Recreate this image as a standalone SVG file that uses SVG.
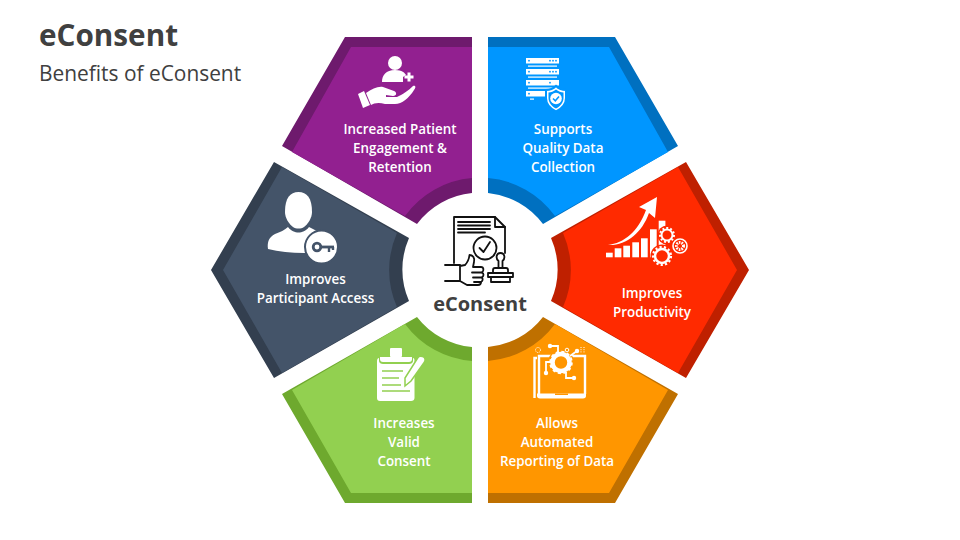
<svg xmlns="http://www.w3.org/2000/svg" width="960" height="540" viewBox="0 0 960 540">
<style>
text{font-family:"Open Sans","Liberation Sans",sans-serif}
.t{font-size:13.4px;font-weight:600;fill:#fff;text-anchor:middle}
.w{fill:#fff}
.ic{fill:none;stroke:#111;stroke-width:1.800;stroke-linejoin:round;stroke-linecap:round}
</style>
<rect width="960" height="540" fill="#fff"/>
<text id="title" x="39" y="46" font-size="29.700" font-weight="700" fill="#404040">eConsent</text>
<text id="subtitle" x="39" y="81" font-size="20.900" fill="#404040">Benefits of eConsent</text>

<g id="connectors"/>

<g id="node-patient">
<path fill="#6E1A6D" d="M472 37H345L282 146L417 224A78 78 0 0 1 472 193Z"/>
<path fill="#922090" d="M472 47H351L292 152L405 216A92 92 0 0 1 472 178Z"/>
<circle class="w" cx="395" cy="63" r="7"/>
<path class="w" d="M382 82C382 75 386 70 395 70C402 70 405 73 406 75L403 77V82Z"/>
<path class="w" d="M407.500 72.500h3v3h3v3h-3v3h-3v-3h-3v-3h3z"/>
<path class="w" d="M366 93C372 89 378 86 383 87L394 91C397 92 397 96 393 96L386 95V97H397C402 95 409 90 413 86C416 85 416 88 414 90C409 98 402 104 395 104L385 104C379 102 374 103 371 105Z"/>
<path class="w" d="M358 94L364 91L370 105L363 108Z"/>
<text class="t"><tspan x="400" y="133.500">Increased Patient</tspan><tspan x="400" y="152.500">Engagement &amp;</tspan><tspan x="400" y="171.500">Retention</tspan></text>
</g>

<g id="node-quality">
<path fill="#0070C0" d="M488 37H615L678 146L543 224A78 78 0 0 0 488 193Z"/>
<path fill="#0096FF" d="M488 47H609L668 152L555 216A92 92 0 0 0 488 178Z"/>
<g class="w">
<rect x="526" y="58" width="33" height="5.500"/><rect x="528" y="65.500" width="29" height="1.200"/>
<rect x="526" y="69" width="33" height="5.500"/><rect x="528" y="76.500" width="29" height="1.200"/>
<rect x="526" y="80" width="33" height="5.500"/><rect x="528" y="87.500" width="29" height="1.200"/>
<rect x="526" y="91" width="23" height="5.500"/><rect x="530" y="98.500" width="4" height="1.200"/>
</g>
<g fill="#0096FF"><circle cx="529" cy="60.700" r=".9"/><circle cx="550" cy="60.700" r=".9"/><circle cx="553" cy="60.700" r=".9"/><circle cx="556" cy="60.700" r=".9"/><circle cx="529" cy="71.700" r=".9"/><circle cx="550" cy="71.700" r=".9"/><circle cx="553" cy="71.700" r=".9"/><circle cx="556" cy="71.700" r=".9"/><circle cx="529" cy="82.700" r=".9"/><circle cx="550" cy="82.700" r=".9"/><circle cx="529" cy="93.700" r=".9"/></g>
<path class="w" stroke="#0096FF" stroke-width="2" d="M556 86C559 89 562 90 566 90V98C566 104 561 109 556 111.500C551 109 546 104 546 98V90C550 90 553 89 556 86Z"/>
<path fill="#0096FF" d="M556 89.500C558.500 91.500 561 92.500 563.500 92.500V98C563.500 102.500 560 106.500 556 108.500C552 106.500 548.500 102.500 548.500 98V92.500C551 92.500 553.500 91.500 556 89.500Z"/>
<circle class="w" cx="556" cy="98.500" r="5.800"/>
<path fill="none" stroke="#0096FF" stroke-width="1.500" d="M553 98.500L555.300 100.800L559 96.500"/>
<text class="t"><tspan x="563" y="133.500">Supports</tspan><tspan x="563" y="152.500">Quality Data</tspan><tspan x="563" y="171.500">Collection</tspan></text>
</g>

<g id="node-productivity">
<path fill="#BF2000" d="M551 238L686 162L749 270L686 378L551 301A78 78 0 0 0 551 238Z"/>
<path fill="#FF2A00" d="M563 233L678 167L737 270L678 373L563 307A91 91 0 0 0 563 233Z"/>
<g class="w">
<rect x="606" y="252.700" width="6.700" height="4.600"/><rect x="614.700" y="248.300" width="6.700" height="9"/><rect x="623.300" y="245.700" width="6.700" height="11.600"/><rect x="632.300" y="242.300" width="6.700" height="15"/><rect x="641" y="238.300" width="6.700" height="19"/><rect x="650" y="229.300" width="6.700" height="28"/><rect x="658.700" y="220.700" width="6.700" height="36.600"/>
<path d="M608 245C624 243 638 232 646 210L639 207L657 197L655 218L649 213C642 233 626 246 608 245Z"/>
</g>
<g fill="#FF2A00"><circle cx="667" cy="235" r="9.500"/><circle cx="662" cy="256" r="11.500"/></g>
<g fill="none" stroke="#fff">
<circle cx="667" cy="235" r="5.500" stroke-width="2"/><circle cx="667" cy="235" r="7" stroke-width="2" stroke-dasharray="2 2"/>
<circle cx="662" cy="256" r="7" stroke-width="2.500"/><circle cx="662" cy="256" r="9" stroke-width="2.200" stroke-dasharray="2.200 2.200"/>
<circle cx="680" cy="246" r="7" stroke-width="1.600"/><circle cx="680" cy="246" r="3.500" stroke-width="3" stroke-dasharray="1.500 1"/>
</g>
<text class="t"><tspan x="652" y="297.500">Improves</tspan><tspan x="652" y="316.500">Productivity</tspan></text>
</g>

<g id="node-reporting">
<path fill="#BF7000" d="M488 347A78 78 0 0 0 543 317L678 394L615 503H488Z"/>
<path fill="#FF9600" d="M488 361A92 92 0 0 0 555 324L668 390L609 493H488Z"/>
<g fill="none" stroke="#fff">
<path stroke-width="2.400" d="M534.500 398V358H537"/>
<path stroke-width="2.400" d="M539 394V356H585V394"/>
</g>
<path class="w" d="M537 393.500H586V396C586 397.500 585 398.500 583 398.500H540C538 398.500 537 397.500 537 396Z"/>
<rect x="555" y="393.500" width="13" height="1.500" fill="#FF9600"/>
<circle cx="561" cy="362.500" r="13" fill="#FF9600"/>
<circle cx="561" cy="362.500" r="8.500" fill="none" stroke="#fff" stroke-width="4.500"/>
<circle cx="561" cy="362.500" r="10.500" fill="none" stroke="#fff" stroke-width="2.500" stroke-dasharray="3 2.500"/>
<g fill="none" stroke="#fff" stroke-width="1.800">
<path d="M550 346H558V352"/><path d="M552 362H546V373"/><path d="M566 372V378H574"/><path d="M570 356L577 351"/>
<circle cx="567" cy="350" r="1.800" stroke-width="1"/>
<circle cx="538" cy="350" r="2.500" stroke-width="1" stroke-dasharray="1 1"/>
<path stroke-width="1" stroke-dasharray="1 1.200" d="M581 347V353M584 347V353"/>
</g>
<g class="w"><circle cx="550" cy="346" r="2.200"/><circle cx="546" cy="373" r="2.200"/><circle cx="574" cy="378" r="2.200"/><circle cx="577" cy="351" r="2.200"/></g>
<text class="t"><tspan x="557" y="427.500">Allows</tspan><tspan x="557" y="446.500">Automated</tspan><tspan x="557" y="465.500">Reporting of Data</tspan></text>
</g>

<g id="node-consent">
<path fill="#6EA92E" d="M472 347A78 78 0 0 1 417 317L282 394L345 503H472Z"/>
<path fill="#92D050" d="M472 361A92 92 0 0 1 405 324L292 390L351 493H472Z"/>
<g class="w">
<rect x="390" y="348" width="12" height="9" rx="1"/>
<path d="M380 357H412V359C412 361 411 362 409 362H383C381 362 380 361 380 359Z"/>
<path d="M377 361C377 359 378 358 379 358V361C379 363 381 364 383 364H409C411 364 413 363 413 361V358C414 358 414.500 359 414.500 361V398C414.500 400 413 401 411 401H380C378 401 377 400 377 398Z"/>
</g>
<g stroke="#92D050" stroke-width="1.500"><path d="M382 371H403M382 378H399M382 385H401M382 391H410"/></g>
<path fill="#fff" stroke="#92D050" stroke-width="1.500" d="M418 357.500C419 356 422 356 423.500 357C425 358 425.500 360 424.500 362L411 381L405 386L405 378Z"/>
<text class="t"><tspan x="404" y="427.500">Increases</tspan><tspan x="404" y="446.500">Valid</tspan><tspan x="404" y="465.500">Consent</tspan></text>
</g>

<g id="node-access">
<path fill="#333F4F" d="M409 238L274 162L211 270L274 378L409 301A78 78 0 0 1 409 238Z"/>
<path fill="#445469" d="M397 233L282 167L223 270L282 373L397 307A91 91 0 0 1 397 233Z"/>
<path class="w" d="M268 249C267 242 269 237 275 234C280 232 285 230 288 227C291 231 295 232.500 298.500 232.500C302 232.500 306 231 309 227C313 229 317 231 320 233L324 252C304 254 284 253 268 249Z"/>
<path class="w" d="M285 212C285 198 290 192 298.500 192C307 192 312 198 312 212C312 218 308 224 304 227C301 229 296 229 293 227C289 224 285 218 285 212Z"/>
<circle cx="321.500" cy="247" r="16.500" fill="#fff" stroke="#445469" stroke-width="2"/>
<g fill="none" stroke="#445469"><circle cx="317" cy="247" r="3.800" stroke-width="2.800"/><path stroke-width="2.800" d="M321 247H334"/><path stroke-width="2.400" d="M329 247V252M333 247V250"/></g>
<text class="t"><tspan x="315.500" y="283.500">Improves</tspan><tspan x="315.500" y="302.500">Participant Access</tspan></text>
</g>

<g id="node-center">
<path class="ic" d="M454 263V217H495L505 227V253"/>
<path class="ic" d="M495 217V227H505"/>
<path class="ic" stroke-width="1.300" d="M458 222H490M458 225.500H490M458 229H490M458 232.500H485"/>
<circle class="ic" cx="485" cy="248" r="11.500"/>
<path class="ic" d="M479.500 248L483.500 252L490 242"/>
<path class="ic" d="M445 265H460V281H445M460 266L465 265C468 262 469 259 469.500 255C473 255 475 258 474 262L473 267H481C484 267 484 271 482 272.500C484 273.500 484 276 482 277.500C483 279 483 281 481 282C481 284 480 285 478 285H467L460 281"/>
<path class="ic" stroke-width="1.300" d="M472 272.500H482M473 277.500H482M474 282H481"/>
<path class="ic" d="M498.500 268V261C495.500 258.500 496 253 500.500 253C505 253 505.500 258.500 502.500 261V268"/>
<path class="ic" d="M493 273V270C493 268.500 494 268 495 268H506C507 268 508 268.500 508 270V273M488 273H513V277H488ZM491 277V282H510V277"/>
<text x="480" y="311" font-size="20" font-weight="700" fill="#404040" text-anchor="middle">eConsent</text>
</g>
</svg>
